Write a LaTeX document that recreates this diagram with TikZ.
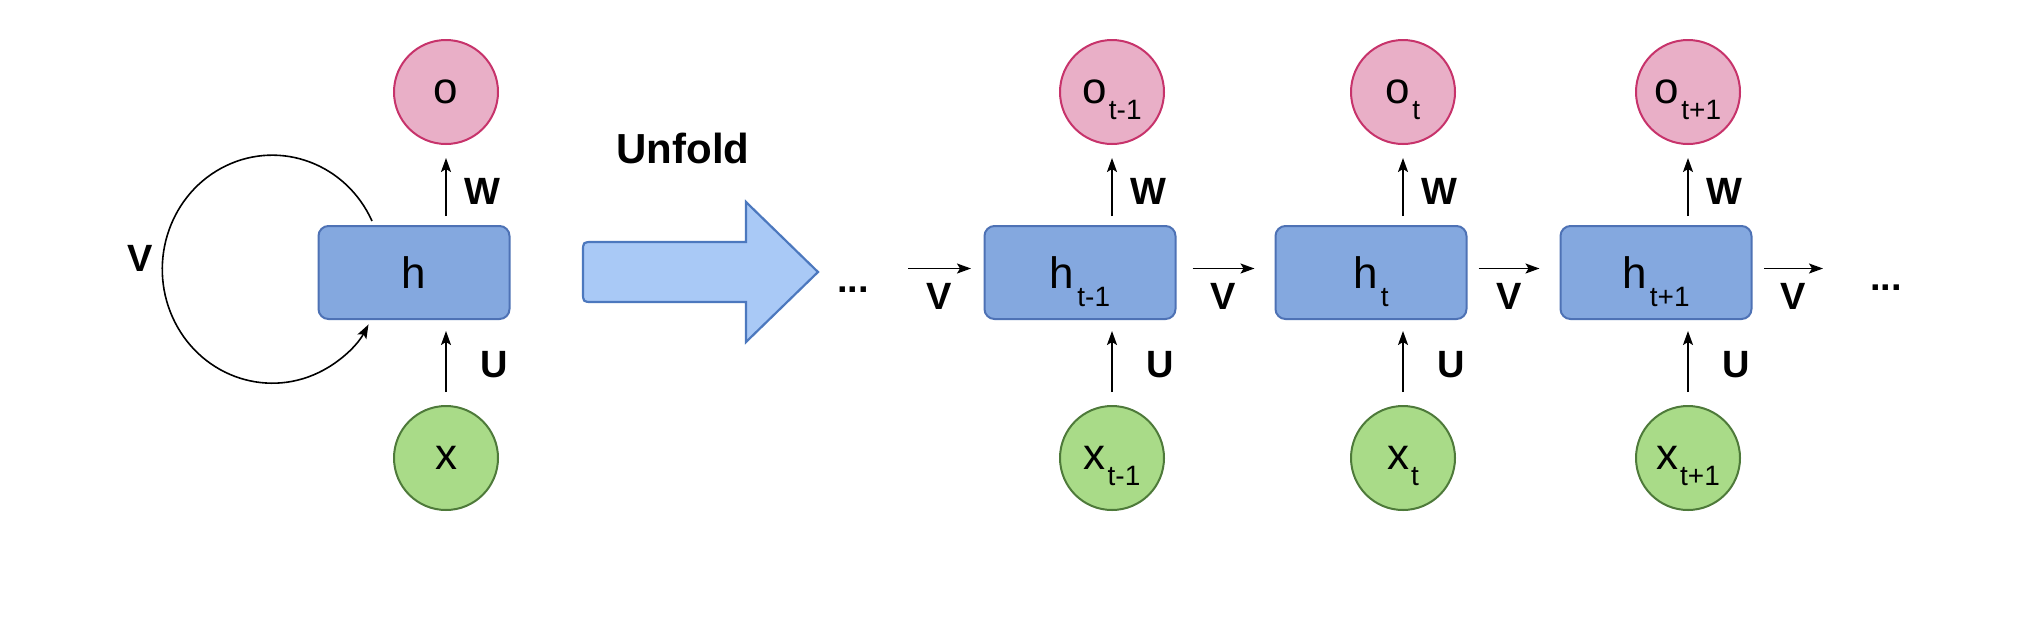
\documentclass[tikz,border=0pt]{standalone}
\usepackage{fontspec}
\setmainfont{Liberation Sans}
\usetikzlibrary{arrows.meta,calc}
\definecolor{boxfill}{HTML}{84A8DF}
\definecolor{boxline}{HTML}{4E72B5}
\definecolor{pinkfill}{HTML}{E9AFC7}
\definecolor{pinkline}{HTML}{C7336B}
\definecolor{greenfill}{HTML}{A9DB88}
\definecolor{greenline}{HTML}{4E7A3A}
\definecolor{arrfill}{HTML}{A9C9F6}
\definecolor{arrline}{HTML}{4C78BE}
\newcommand\hsub[1]{\hspace{1.5pt}\smash{\raisebox{-9pt}{\fontsize{14}{14}\selectfont #1}}}
\newcommand\csub[1]{\hspace{1pt}\smash{\raisebox{-8pt}{\fontsize{14}{14}\selectfont #1}}}
\begin{document}
\begin{tikzpicture}[x=0.5pt,y=-0.5pt,
  hbox/.style={draw=boxline,fill=boxfill,line width=1pt,rounded corners=5pt,
    minimum width=95.5pt,minimum height=46.5pt,inner sep=0pt,
    font=\fontsize{22}{22}\selectfont,text height=16pt,text depth=0pt},
  ocirc/.style={circle,draw=pinkline,fill=pinkfill,line width=1pt,
    minimum size=52pt,inner sep=0pt,
    font=\fontsize{22}{22}\selectfont,text height=11.4pt,text depth=0pt},
  xcirc/.style={ocirc,draw=greenline,fill=greenfill},
  arr/.style={draw=black,line width=0.8pt,-{Stealth[length=7pt,width=5pt,inset=1.5pt]}},
  lbl/.style={inner sep=0pt,font=\fontsize{19}{19}\selectfont\bfseries},
  dots/.style={inner sep=0pt,font=\fontsize{19}{19}\selectfont\bfseries},
  bigarrow/.style={fill=arrfill,draw=arrline,line width=1.1pt,line join=miter}
]
\fill[white] (0,0) rectangle (2036,628);
\useasboundingbox (0,0) rectangle (2036,628);

% ---------- folded network ----------
\node[hbox] (h) at (414,272.5) {h};
\node[ocirc] (o) at (446,92) {o};
\node[xcirc] (x) at (446,458) {x};
\draw[arr] ([yshift=4.5pt]h.north -| o.south) -- node[lbl,right=9pt,yshift=-2.3pt]{W} ([yshift=-6.5pt]o.south);
\draw[arr] ([yshift=6.5pt]x.north) -- node[lbl,right=17pt,yshift=-1.5pt]{U} ([yshift=-5.5pt]h.south -| x.north);
\draw[arr] ([xshift=27.25pt,yshift=2pt]h.north west) arc[start angle=25,end angle=331,x radius=55pt,y radius=57pt];
\node[lbl] (vloop) at (140,258) {V};

% ---------- unfold arrow ----------
\node[inner sep=0pt,font=\fontsize{21}{21}\selectfont\bfseries] (unfold) at (683,148) {Unfold};
\draw[bigarrow] (818,272) -- (746,202) -- (746,242) -- (593,242)
  .. controls (583,242) .. (583,252) -- (583,292)
  .. controls (583,302) .. (593,302) -- (746,302) -- (746,342) -- cycle;

% ---------- unfolded network ----------
\node[dots] (dl) at (853,290) {...};
\coordinate (vin) at (908,268.5);

\node[hbox] (h1) at (1080,272.5) {h\hsub{t-1}};
\node[ocirc] (o1) at (1112,92) {o\csub{t-1}};
\node[xcirc] (x1) at (1112,458) {x\csub{t-1}};

\node[hbox] (h2) at (1371,272.5) {h\hsub{t}};
\node[ocirc] (o2) at (1403,92) {o\csub{t}};
\node[xcirc] (x2) at (1403,458) {x\csub{t}};

\node[hbox] (h3) at (1656,272.5) {h\hsub{t+1}};
\node[ocirc] (o3) at (1688,92) {o\csub{t+1}};
\node[xcirc] (x3) at (1688,458) {x\csub{t+1}};

\coordinate (vout) at (1823,268.5);
\node[dots] (dr) at (1886,288) {...};

\foreach \i in {1,2,3}{
  \draw[arr] ([yshift=4.5pt]h\i.north -| o\i.south) -- node[lbl,right=9pt,yshift=-2.3pt]{W} ([yshift=-6.5pt]o\i.south);
  \draw[arr] ([yshift=6.5pt]x\i.north) -- node[lbl,right=17pt,yshift=-1.5pt]{U} ([yshift=-5.5pt]h\i.south -| x\i.north);
}

\draw[arr] (vin) -- node[lbl,below=7pt]{V} ([xshift=-6.25pt,yshift=2pt]h1.west);
\draw[arr] ([xshift=8pt,yshift=2pt]h1.east) -- node[lbl,below=7pt]{V} ([xshift=-10pt,yshift=2pt]h2.west);
\draw[arr] ([xshift=5.5pt,yshift=2pt]h2.east) -- node[lbl,below=7pt]{V} ([xshift=-10pt,yshift=2pt]h3.west);
\draw[arr] ([xshift=5.75pt,yshift=2pt]h3.east) -- node[lbl,below=7pt]{V} (vout);
\end{tikzpicture}
\end{document}
